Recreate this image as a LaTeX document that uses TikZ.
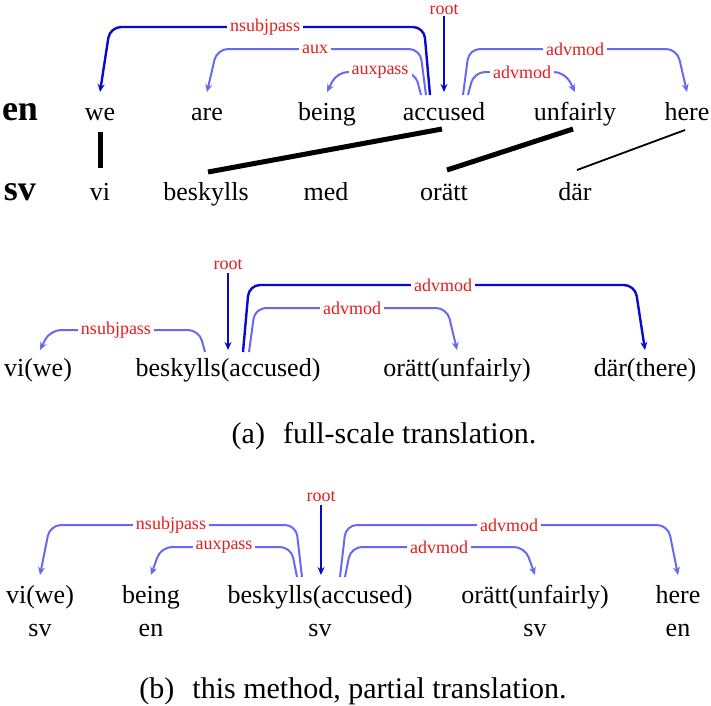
\documentclass[tikz,border=0pt]{standalone}
\usepackage{fontspec}
\setmainfont{Liberation Serif}
\usetikzlibrary{arrows.meta}
\definecolor{dkb}{RGB}{10,10,205}
\definecolor{ltb}{RGB}{105,105,240}
\definecolor{lbl}{RGB}{225,30,30}
\tikzset{
  w/.style={font=\fontsize{26}{28}\selectfont,inner sep=0pt,anchor=base},
  lang/.style={font=\fontsize{36}{40}\selectfont\bfseries,inner sep=0pt,anchor=base},
  captxt/.style={font=\fontsize{30}{32}\selectfont,inner sep=0pt,anchor=base},
  lab/.style={font=\fontsize{18}{20}\selectfont,text=lbl,fill=white,inner sep=3pt},
  dep/.style={line width=2pt,rounded corners=11pt,-{Stealth[length=8pt,width=7pt]}},
  dark/.style={dep,draw=dkb,line width=2.4pt},
  light/.style={dep,draw=ltb},
  al/.style={line width=5pt},
  alt/.style={line width=1.8pt}
}
\newcommand{\deparc}[9]{\draw[#1] (#2,#3) -- ({#2+6*#5},#4) -- ({#6-10*#5},#4) -- (#6,#7); \node[lab] at (#9,#4) {#8};}
\begin{document}
\begin{tikzpicture}[x=1pt,y=-1pt]
\useasboundingbox (0,0) rectangle (711,705);
% Panel 1
\node[lang] (en) at (20,120) {en};
\node[lang] (sv) at (20,200) {sv};
\node[w] (we) at (100,120) {we};
\node[w] (are) at (207,120) {are};
\node[w] (being) at (327,120) {being};
\node[w] (acc) at (444,120) {accused};
\node[w] (unf) at (575,120) {unfairly};
\node[w] (here) at (687,120) {here};
\node[w] (vi) at (100,200) {vi};
\node[w] (besk) at (206,200) {beskylls};
\node[w] (med) at (326,200) {med};
\node[w] (oratt) at (444,200) {orätt};
\node[w] (dar) at (575,200) {där};
\draw[al] (100,132) -- (100,168);
\draw[al] (208,172) -- (442,129);
\draw[al] (447,170) -- (573,129);
\draw[alt] (577,170) -- (685,130);
\deparc{dark}{430}{95}{27}{-1}{100}{92}{nsubjpass}{265}
\deparc{light}{426}{95}{49}{-1}{207}{92}{aux}{315}
\deparc{light}{421}{95}{72}{-1}{327}{92}{auxpass}{380}
\deparc{light}{463}{95}{49}{1}{687}{92}{advmod}{575}
\deparc{light}{468}{95}{72}{1}{575}{92}{advmod}{522}
\node[lab,inner sep=1pt] (r1) at (444,10) {root};
\draw[dark] (r1.south) -- (444,92);
% Panel 2
\node[w] (p2a) at (38,376) {vi(we)};
\node[w] (p2b) at (228,376) {beskylls(accused)};
\node[w] (p2c) at (457,376) {orätt(unfairly)};
\node[w] (p2d) at (645,376) {där(there)};
\deparc{light}{205}{352}{330}{-1}{40}{350}{nsubjpass}{116}
\deparc{dark}{243}{352}{285}{1}{645}{350}{advmod}{443}
\deparc{light}{249}{352}{308}{1}{457}{350}{advmod}{352}
\node[lab] (r2) at (228,265) {root};
\draw[dark] (r2.south) -- (228,350);
\node[captxt] (capa) at (384,443) {(a)\hspace{0.6em}full-scale translation.};
% Panel 3
\node[w] (q1) at (40,603) {vi(we)};
\node[w] (q2) at (151,603) {being};
\node[w] (q3) at (320,603) {beskylls(accused)};
\node[w] (q4) at (535,603) {orätt(unfairly)};
\node[w] (q5) at (678,603) {here};
\node[w] (l1) at (40,636) {sv};
\node[w] (l2) at (151,636) {en};
\node[w] (l3) at (320,636) {sv};
\node[w] (l4) at (535,636) {sv};
\node[w] (l5) at (678,636) {en};
\deparc{light}{302}{577}{525}{-1}{40}{575}{nsubjpass}{171}
\deparc{light}{297}{577}{547}{-1}{151}{575}{auxpass}{224}
\deparc{light}{340}{577}{525}{1}{678}{575}{advmod}{509}
\deparc{light}{345}{577}{547}{1}{535}{575}{advmod}{439}
\node[lab] (r3) at (321,497) {root};
\draw[dark] (r3.south) -- (321,575);
\node[captxt] (capb) at (353,698) {(b)\hspace{0.6em}this method, partial translation.};
\end{tikzpicture}
\end{document}
